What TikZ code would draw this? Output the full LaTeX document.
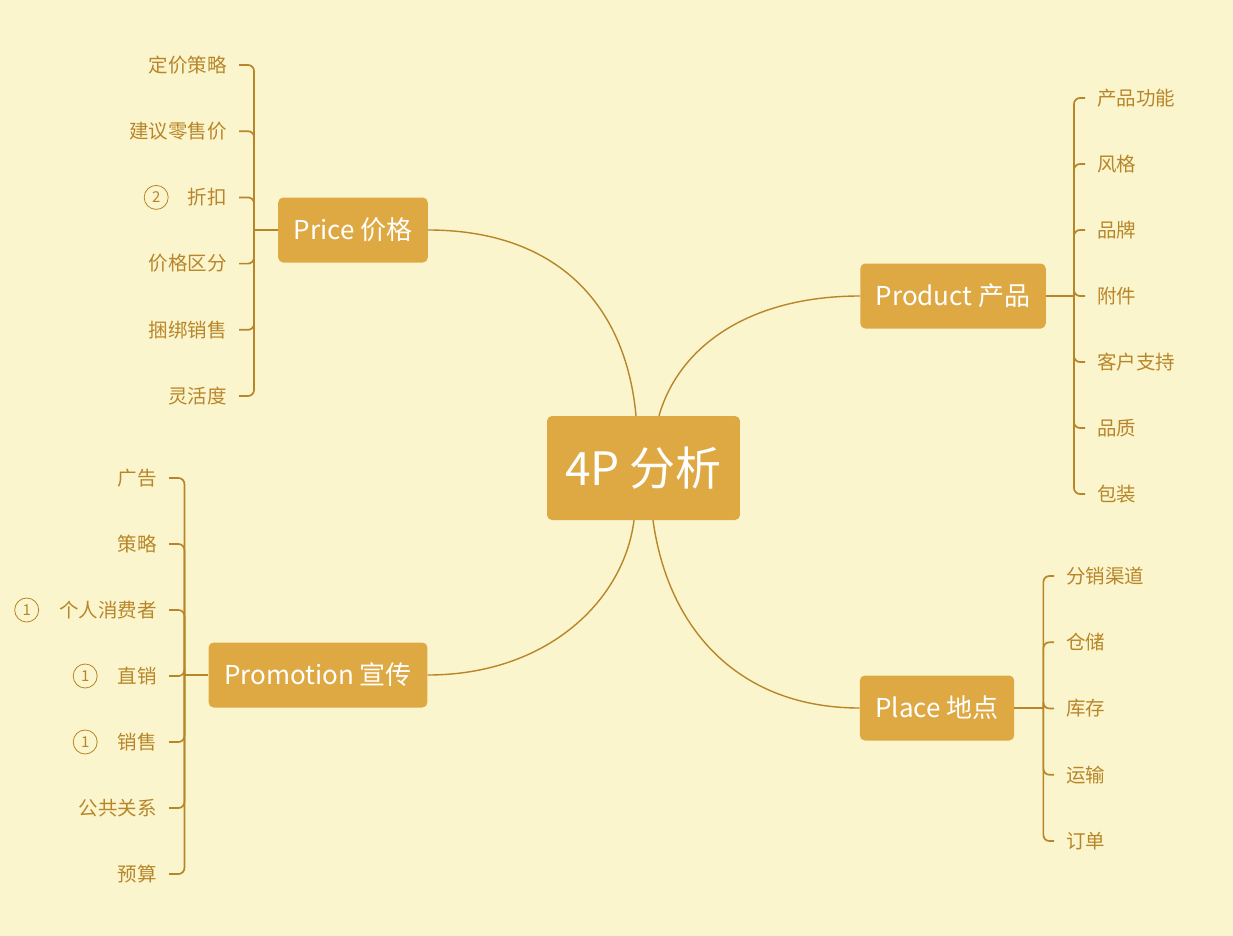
\documentclass[tikz,border=0pt]{standalone}
\usepackage{fontspec}
\setmainfont{Noto Sans CJK SC}
\usetikzlibrary{positioning}
\definecolor{paper}{HTML}{FBF5CD}
\definecolor{gold}{HTML}{DEA943}
\definecolor{bronze}{HTML}{B8862A}

\tikzset{
  topic/.style={fill=gold,text=white,rounded corners=5pt,minimum height=65pt,
    inner xsep=15.5pt,font=\fontsize{26}{30}\selectfont},
  leaf/.style={text=bronze,inner xsep=12pt,font=\fontsize{19.5}{22}\selectfont},
  branch/.style={draw=bronze,line width=1.4pt},
  twig/.style={draw=bronze,line width=1.7pt,rounded corners=6pt},
  marker/.style={circle,draw=bronze,text=bronze,minimum size=24pt,inner sep=0pt,
    line width=0.8pt,font=\fontsize{15}{15}\selectfont}
}

\begin{document}
\begin{tikzpicture}[x=1pt,y=-1pt]
  \fill[paper] (0,0) rectangle (1233,936);
  \useasboundingbox (0,0) rectangle (1233,936);

  \node[topic,minimum height=104pt,inner xsep=18pt,font=\fontsize{46}{50}\selectfont]
    (core) at (643.5,468) {4P 分析};
  \node[topic] (price) at (353,230) {Price 价格};
  \node[topic] (product) at (953,296) {Product 产品};
  \node[topic] (promo) at (318,675) {Promotion 宣传};
  \node[topic] (place) at (937,708) {Place 地点};

  \draw[branch] ([xshift=-7.5pt]core.north) .. controls +(-10,-110) and +(130,0) .. (price.east);
  \draw[branch] ([xshift=15.5pt]core.north) .. controls +(20,-70) and +(-110,0) .. (product.west);
  \draw[branch] ([xshift=-9.5pt]core.south) .. controls +(-10,80) and +(120,0) .. (promo.east);
  \draw[branch] ([xshift=9.5pt]core.south) .. controls +(15,110) and +(-120,0) .. (place.west);

  % price
  \draw[twig] (price.west) -- ++(-24,0);
  \foreach \t [count=\i] in {定价策略,建议零售价,折扣,价格区分,捆绑销售,灵活度} {
    \node[leaf,anchor=east] (pr\i) at (239,{65+66.2*(\i-1)}) {\t};
    \draw[twig] ([xshift=-24pt]price.west) |- (pr\i.east);
  }
  % product
  \draw[twig] (product.east) -- ++(28,0);
  \foreach \t [count=\i] in {产品功能,风格,品牌,附件,客户支持,品质,包装} {
    \node[leaf,anchor=west] (pd\i) at (1085,{98+66*(\i-1)}) {\t};
    \draw[twig] ([xshift=28pt]product.east) |- (pd\i.west);
  }
  % promotion
  \draw[twig] (promo.west) -- ++(-24,0);
  \foreach \t [count=\i] in {广告,策略,个人消费者,直销,销售,公共关系,预算} {
    \node[leaf,anchor=east] (pm\i) at (169,{478+66*(\i-1)}) {\t};
    \draw[twig] ([xshift=-24pt]promo.west) |- (pm\i.east);
  }
  % place
  \draw[twig] (place.east) -- ++(29,0);
  \foreach \t [count=\i] in {分销渠道,仓储,库存,运输,订单} {
    \node[leaf,anchor=west] (pl\i) at (1054,{576+66.25*(\i-1)}) {\t};
    \draw[twig] ([xshift=29pt]place.east) |- (pl\i.west);
  }

  \node[marker,left=7pt of pr3] (mk1) {2};
  \node[marker,left=8pt of pm3] (mk2) {1};
  \node[marker,left=8pt of pm4] (mk3) {1};
  \node[marker,left=8pt of pm5] (mk4) {1};
\end{tikzpicture}
\end{document}
